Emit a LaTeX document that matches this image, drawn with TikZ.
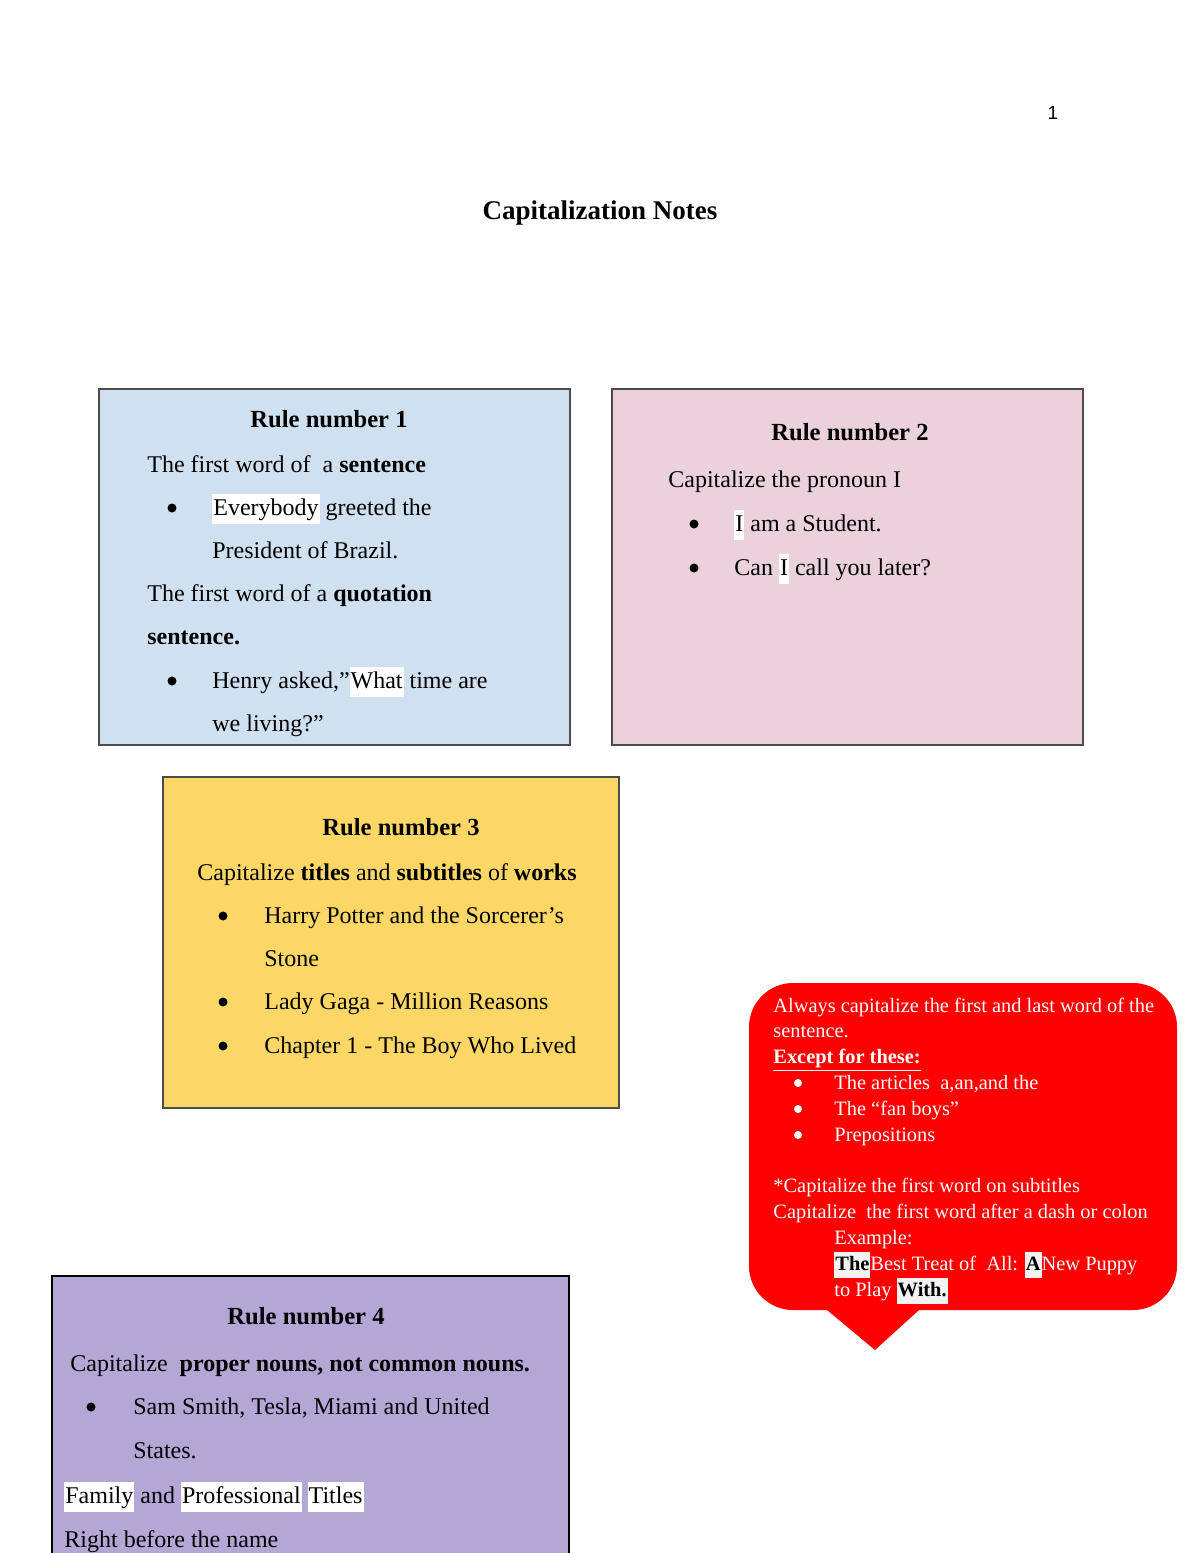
\documentclass[tikz,border=0pt]{standalone}
\usepackage{fontspec}
\setmainfont{Liberation Serif}
\newfontfamily\pgnum{Liberation Sans}
\begin{document}
\begin{tikzpicture}[x=0.5pt,y=-0.5pt,
  t/.style={anchor=base west,inner sep=0pt,font=\fontsize{12}{14}\selectfont},
  tt/.style={anchor=base,inner sep=0pt,font=\fontsize{12.3}{14}\selectfont\bfseries},
  r/.style={anchor=base west,inner sep=0pt,text=white,font=\fontsize{10.2}{12}\selectfont},
  bul/.style={circle,fill=black,inner sep=0pt,minimum size=4.5pt},
  wbul/.style={circle,fill=white,inner sep=0pt,minimum size=4pt}]
\newcommand{\hl}[1]{\colorbox{white}{\strut #1}}
\setlength{\fboxsep}{0.5pt}
\newcommand{\gh}[1]{\colorbox{black!5}{\textcolor{black}{\strut\bfseries #1}}}
\definecolor{c1}{HTML}{CFE0F1}\definecolor{c2}{HTML}{EAD1DC}
\definecolor{c3}{HTML}{FCD766}\definecolor{c4}{HTML}{B4A7D6}
\useasboundingbox[fill=white] (0,0) rectangle (1200,1553);
\node[anchor=base,inner sep=0pt,font=\pgnum\fontsize{9.5}{11}\selectfont] (pg) at (1053,119) {1};
\node[anchor=base,inner sep=0pt,font=\fontsize{13.5}{15}\selectfont\bfseries] (title) at (600,219) {Capitalization Notes};
% box 1
\draw[fill=c1,draw=black!70,line width=0.6pt] (99,389) rectangle (570,745);
\node[tt] (b1t) at (329,427) {Rule number 1};
\node[t] (b1a) at (147,472) {The first word of\ \ a \textbf{sentence}};
\node[bul] (b1b1) at (172,508) {};
\node[t] (b1b) at (212,515) {\hl{Everybody} greeted the};
\node[t] (b1c) at (212,558) {President of Brazil.};
\node[t] (b1d) at (147,601) {The first word of a \textbf{quotation}};
\node[t] (b1e) at (147,644) {\textbf{sentence.}};
\node[bul] (b1b2) at (172,681) {};
\node[t] (b1f) at (212,688) {Henry asked,''\hl{What} time are};
\node[t] (b1g) at (212,731) {we living?''};
% box 2
\draw[fill=c2,draw=black!70,line width=0.6pt] (612,389) rectangle (1083,745);
\node[tt] (b2t) at (850,440) {Rule number 2};
\node[t] (b2a) at (668,487) {Capitalize the pronoun I};
\node[bul] (b2b1) at (694,524) {};
\node[t] (b2b) at (734,531) {\hl{I} am a Student.};
\node[bul] (b2b2) at (694,568) {};
\node[t] (b2c) at (734,575) {Can \hl{I} call you later?};
% box 3
\draw[fill=c3,draw=black!70,line width=0.6pt] (163,777) rectangle (619,1108);
\node[tt] (b3t) at (401,835) {Rule number 3};
\node[t] (b3a) at (197,880) {Capitalize \textbf{titles} and \textbf{subtitles} of \textbf{works}};
\node[bul] (b3b1) at (223,916) {};
\node[t] (b3b) at (264,923) {Harry Potter and the Sorcerer's};
\node[t] (b3c) at (264,966) {Stone};
\node[bul] (b3b2) at (223,1002) {};
\node[t] (b3d) at (264,1009) {Lady Gaga - Million Reasons};
\node[bul] (b3b3) at (223,1046) {};
\node[t] (b3e) at (264,1053) {Chapter 1 - The Boy Who Lived};
% box 4
\draw[fill=c4,draw=black,line width=1.2pt] (52,1560) -- (52,1276) -- (569,1276) -- (569,1560);
\node[tt] (b4t) at (306,1324) {Rule number 4};
\node[t] (b4a) at (70,1371) {Capitalize\ \ \textbf{proper nouns, not common nouns.}};
\node[bul] (b4b1) at (91,1407) {};
\node[t] (b4b) at (133,1414) {Sam Smith, Tesla, Miami and United};
\node[t] (b4c) at (133,1458) {States.};
\node[t] (b4d) at (64,1503) {\hl{Family} and \hl{Professional} \hl{Titles}};
\node[t] (b4e) at (64,1547) {Right before the name};
% red callout
\fill[red,rounded corners=22pt] (749,983) rectangle (1177,1310);
\fill[red] (815,1300) -- (930,1300) -- (875,1350) -- cycle;
\node[r] (ra) at (773,1012) {Always capitalize the first and last word of the};
\node[r] (rb) at (773,1037) {sentence.};
\node[r] (rc) at (773,1063) {\underline{\textbf{Except for these:}}};
\node[wbul] (rd1) at (798,1083) {};
\node[r] (rd) at (834,1089) {The articles\ \ a,an,and the};
\node[wbul] (re1) at (798,1109) {};
\node[r] (re) at (834,1115) {The ``fan boys''};
\node[wbul] (rf1) at (798,1135) {};
\node[r] (rf) at (834,1141) {Prepositions};
\node[r] (rg) at (773,1192) {*Capitalize the first word on subtitles};
\node[r] (rh) at (773,1218) {Capitalize\ \ the first word after a dash or colon};
\node[r] (ri) at (834,1244) {Example:};
\node[r] (rj) at (834,1270) {\gh{The}Best Treat of\ \ All: \gh{A}New Puppy};
\node[r] (rk) at (834,1296) {to Play \gh{With.}};
\end{tikzpicture}
\end{document}
